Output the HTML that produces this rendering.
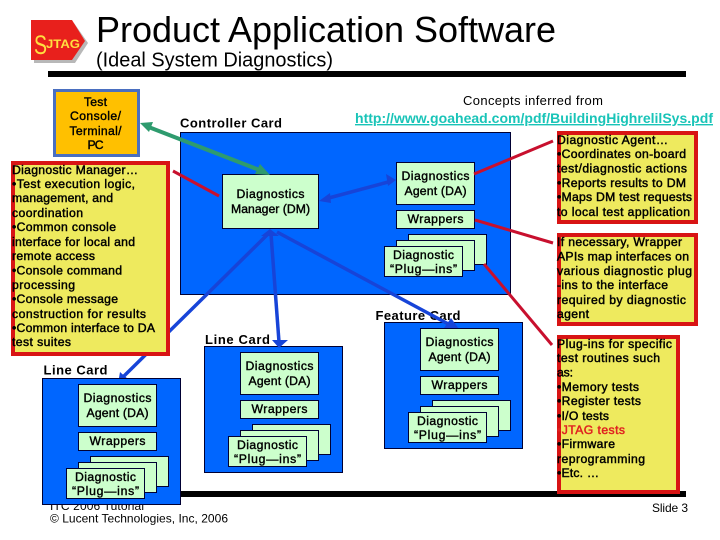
<!DOCTYPE html>
<html><head><meta charset="utf-8"><title>Product Application Software</title>
<style>
html,body{margin:0;padding:0;background:#fff}
svg{display:block;filter:blur(.25px)}
text{font-family:"Liberation Sans",sans-serif;fill:#000}
.b text{font-size:12.2px;stroke:#000;stroke-width:.45px}
.l{font-size:13px;font-weight:bold}
.c{font-size:12.2px;stroke:#000;stroke-width:.4px;text-anchor:middle}
.card{fill:#0066ff;stroke:#000033;stroke-width:1}
.g{fill:#ccffcc;stroke:#000033;stroke-width:1}
.y{fill:#eeea5e;stroke:#d81414;stroke-width:4}
.r{stroke:#c8102e;stroke-width:3;fill:none}
.bl{stroke:#1744d8;stroke-width:3.5;fill:none}
</style></head><body>
<svg width="720" height="540" viewBox="0 0 720 540" xmlns="http://www.w3.org/2000/svg">
<defs>
<g id="stack">
<rect class="g" x="24" y="0" width="78" height="30"/>
<rect class="g" x="12" y="6" width="78" height="30"/>
<rect class="g" x="0" y="12" width="78" height="30"/>
<text class="c" x="39" y="24.500" textLength="61">Diagnostic</text>
<text class="c" x="39" y="38.500" textLength="67">“Plug—ins”</text>
</g>
<g id="da">
<rect class="g" x="0" y="0" width="78" height="42"/>
<text class="c" x="39" y="17.700" textLength="68">Diagnostics</text>
<text class="c" x="39" y="32.500" textLength="62">Agent (DA)</text>
<rect class="g" x="0" y="48" width="78" height="18"/>
<text class="c" x="39" y="60.700" textLength="56">Wrappers</text>
</g>
</defs>

<!-- logo -->
<polygon points="34,23 74,23 88,43 75,63 34,63" fill="#b8b8b8"/>
<polygon points="31,20 72,20 85,41 72,60 31,60" fill="#e8201c"/>
<text x="34" y="54" style="font-size:27px;fill:#ffe040" textLength="13" lengthAdjust="spacingAndGlyphs">S</text>
<text x="46" y="48" style="font-size:12px;font-weight:bold;fill:#ffe040" textLength="34" lengthAdjust="spacingAndGlyphs">JTAG</text>

<!-- headings -->
<text x="96" y="42" style="font-size:36px" textLength="460" lengthAdjust="spacing">Product Application Software</text>
<text x="96" y="66.500" style="font-size:20px" textLength="237" lengthAdjust="spacingAndGlyphs">(Ideal System Diagnostics)</text>
<rect x="48" y="71" width="638" height="6" fill="#000"/>
<rect x="180" y="491" width="506" height="6" fill="#000"/>

<text x="533" y="105" style="font-size:13px;text-anchor:middle" textLength="140">Concepts inferred from</text>
<text x="534" y="123" style="font-size:14px;font-weight:bold;fill:#19c4b8;text-anchor:middle;text-decoration:underline" textLength="358" lengthAdjust="spacingAndGlyphs">http://www.goahead.com/pdf/BuildingHighrelilSys.pdf</text>

<!-- footer -->
<text x="50" y="510" style="font-size:12px" textLength="94">ITC 2006 Tutorial</text>
<text x="50" y="522.500" style="font-size:12px" textLength="178">© Lucent Technologies, Inc, 2006</text>
<text x="652" y="512" style="font-size:12px" textLength="36">Slide 3</text>

<!-- cards -->
<rect class="card" x="180.500" y="132.500" width="330" height="162"/>
<rect class="card" x="384.500" y="322.500" width="138" height="126"/>
<rect class="card" x="204.500" y="346.500" width="138" height="126"/>

<text class="l" x="180" y="127.500" textLength="102">Controller Card</text>
<text class="l" x="375.500" y="320" textLength="85">Feature Card</text>
<text class="l" x="205" y="344" textLength="65">Line Card</text>
<text class="l" x="43.500" y="374.500" textLength="64">Line Card</text>

<!-- controller contents -->
<rect class="g" x="222.500" y="174.500" width="96" height="54"/>
<text class="c" x="270.500" y="198" textLength="68">Diagnostics</text>
<text class="c" x="270.500" y="213" textLength="79">Manager (DM)</text>
<use href="#da" x="396.500" y="162.500"/>
<use href="#stack" x="384.500" y="234.500"/>

<!-- blue connectors -->
<g class="bl">
<line x1="325" y1="199" x2="392" y2="181"/>
<line x1="268" y1="234" x2="122" y2="378"/>
<line x1="271" y1="234" x2="279" y2="342"/>
<line x1="277" y1="232" x2="452" y2="326"/>
</g>
<g fill="#1744d8">
<polygon points="319,201 330,193 331,203"/>
<polygon points="396,180 386,174 388,186"/>
<polygon points="270,229 261,236 279,236"/>
<polygon points="118,384 120,372 129,380"/>
<polygon points="279,348 272,340 288,340"/>
<polygon points="459,329 444,328 451,318"/>
</g>

<!-- feature + line cards contents -->
<use href="#da" x="420.500" y="328.500"/>
<use href="#stack" x="408.500" y="400.500"/>
<use href="#da" x="240.500" y="352.500"/>
<use href="#stack" x="228.500" y="424.500"/>
<rect class="card" x="42.500" y="378.500" width="138" height="126"/>
<use href="#da" x="78.500" y="384.500"/>
<use href="#stack" x="66.500" y="456.500"/>

<!-- console -->
<rect x="54.500" y="90.500" width="84" height="65" fill="#ffc000" stroke="#4a6fc0" stroke-width="3"/>
<text class="c" x="95.500" y="106" textLength="23">Test</text>
<text class="c" x="95.500" y="120" textLength="51">Console/</text>
<text class="c" x="95.500" y="135" textLength="52">Terminal/</text>
<text class="c" x="95.500" y="149" textLength="16">PC</text>

<!-- green arrow -->
<line x1="146" y1="126" x2="262" y2="171" stroke="#2e9b6e" stroke-width="4"/>
<polygon points="140,123 153,122 149,132" fill="#2e9b6e"/>
<polygon points="270,175 255,174 260,164" fill="#2e9b6e"/>

<!-- red connectors -->
<g class="r">
<line x1="173" y1="171" x2="219" y2="196"/>
<line x1="474" y1="174" x2="553" y2="141"/>
<line x1="475" y1="220" x2="553" y2="243"/>
<line x1="484" y1="264" x2="552" y2="345"/>
</g>

<!-- yellow panels -->
<rect class="y" x="13" y="163" width="155" height="191"/>
<rect class="y" x="559" y="133" width="137" height="89"/>
<rect class="y" x="559" y="235" width="137" height="89"/>
<rect class="y" x="559" y="337" width="119" height="155"/>

<g class="b">
<text x="12" y="174" textLength="126">Diagnostic Manager…</text>
<text x="12" y="188" textLength="123">•Test execution logic,</text>
<text x="12" y="202" textLength="101">management, and</text>
<text x="12" y="217" textLength="71">coordination</text>
<text x="12" y="231" textLength="104">•Common console</text>
<text x="12" y="246" textLength="123">interface for local and</text>
<text x="12" y="260" textLength="83">remote access</text>
<text x="12" y="274.500" textLength="110">•Console command</text>
<text x="12" y="289" textLength="63">processing</text>
<text x="12" y="303" textLength="106">•Console message</text>
<text x="12" y="318" textLength="134">construction for results</text>
<text x="12" y="332" textLength="143">•Common interface to DA</text>
<text x="12" y="346" textLength="59">test suites</text>

<text x="557" y="144" textLength="111">Diagnostic Agent…</text>
<text x="557" y="158" textLength="129">•Coordinates on-board</text>
<text x="557" y="172.500" textLength="130">test/diagnostic actions</text>
<text x="557" y="187" textLength="129">•Reports results to DM</text>
<text x="557" y="201" textLength="135">•Maps DM test requests</text>
<text x="557" y="216" textLength="133">to local test application</text>

<text x="557" y="246" textLength="125">If necessary, Wrapper</text>
<text x="557" y="260.500" textLength="132">APIs map interfaces on</text>
<text x="557" y="275" textLength="135">various diagnostic plug</text>
<text x="557" y="289" textLength="111">-ins to the interface</text>
<text x="557" y="304" textLength="129">required by diagnostic</text>
<text x="557" y="318" textLength="32">agent</text>

<text x="557" y="348" textLength="115">Plug-ins for specific</text>
<text x="557" y="362" textLength="103">test routines such</text>
<text x="557" y="376.500" textLength="16">as:</text>
<text x="557" y="391" textLength="82">•Memory tests</text>
<text x="557" y="405" textLength="84">•Register tests</text>
<text x="557" y="420" textLength="52">•I/O tests</text>
<text x="557" y="434" textLength="68" style="fill:#e02020;stroke:#e02020">•JTAG tests</text>
<text x="557" y="448" textLength="58">•Firmware</text>
<text x="557" y="463" textLength="88">reprogramming</text>
<text x="557" y="477" textLength="42">•Etc. …</text>
</g>
</svg>
</body></html>
